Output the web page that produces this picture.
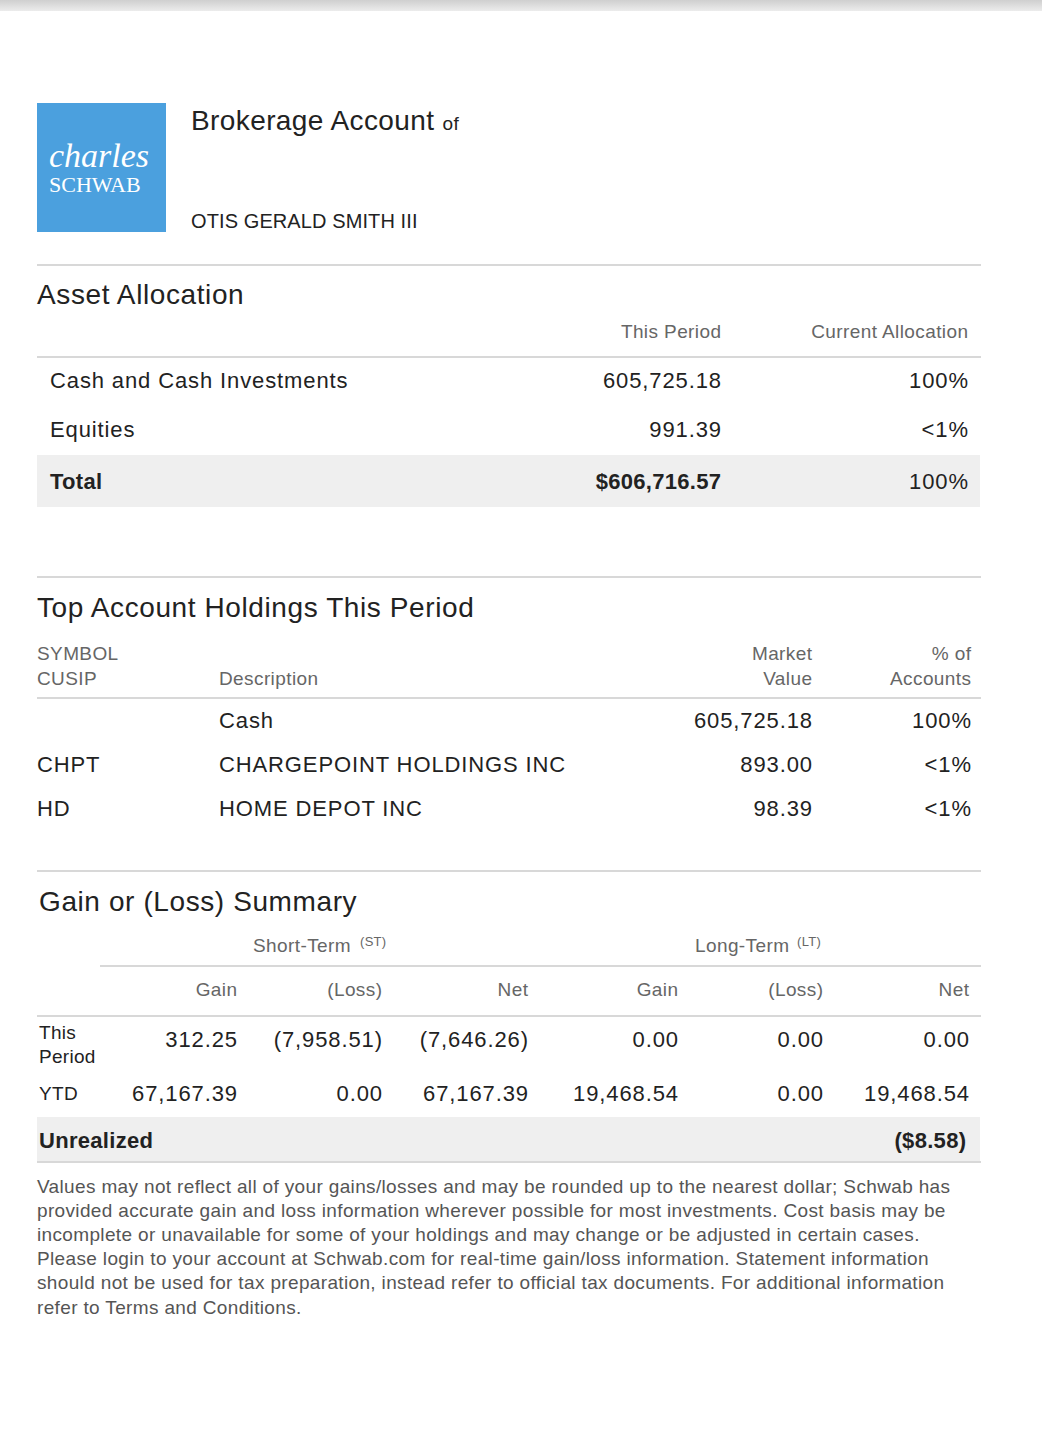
<!DOCTYPE html>
<html><head><meta charset="utf-8">
<script src="https://cdn.jsdelivr.net/npm/chart.js@4/dist/chart.umd.min.js"></script>
<style>
html,body{margin:0;padding:0;background:#fff;}
body{width:1042px;height:1440px;position:relative;overflow:hidden;font-family:"Liberation Sans",Arial,sans-serif;color:#222;}
.t{position:absolute;white-space:nowrap;line-height:1;}
.hr{position:absolute;height:2px;background:#d8d8d8;}
.bg{position:absolute;background:#efefef;}
</style></head><body>
<div style="position:absolute;left:0;top:0;width:1042px;height:11px;background:linear-gradient(#cfcfcf,#ececec);"></div>
<div style="position:absolute;left:37px;top:103px;width:129px;height:129px;background:#4ba0de;"></div>
<div class="t" style="left:49px;top:137px;font:italic 34px 'Liberation Serif',serif;color:#fff;">charles</div>
<div class="t" style="left:49px;top:172px;font:22px 'Liberation Serif',serif;color:#fff;">SCHWAB</div>
<div class="t" style="left:191px;top:107px;font-size:28px;letter-spacing:0.4px;">Brokerage Account <span style="font-size:19px">of</span></div>
<div class="t" style="left:191px;top:211px;font-size:20px;letter-spacing:0.1px;">OTIS GERALD SMITH III</div>
<div id="root"></div>
<script>
const allocCategories=["Cash and Cash Investments","Equities"];
const allocThisPeriod=["605,725.18","991.39"];
const allocCurrent=["100%","<1%"];
const allocTotal=["Total","$606,716.57","100%"];
const holdSymbols=["","CHPT","HD"];
const holdDescriptions=["Cash","CHARGEPOINT HOLDINGS INC","HOME DEPOT INC"];
const holdMarketValues=["605,725.18","893.00","98.39"];
const holdPercent=["100%","<1%","<1%"];
const glRows=["This Period","YTD"];
const glColumns=["Gain","(Loss)","Net","Gain","(Loss)","Net"];
const glThisPeriod=["312.25","(7,958.51)","(7,646.26)","0.00","0.00","0.00"];
const glYTD=["67,167.39","0.00","67,167.39","19,468.54","0.00","19,468.54"];
const unrealized="($8.58)";
const footnote=["Values may not reflect all of your gains/losses and may be rounded up to the nearest dollar; Schwab has","provided accurate gain and loss information wherever possible for most investments. Cost basis may be","incomplete or unavailable for some of your holdings and may change or be adjusted in certain cases.","Please login to your account at Schwab.com for real-time gain/loss information. Statement information","should not be used for tax preparation, instead refer to official tax documents. For additional information","refer to Terms and Conditions."];

const root=document.getElementById('root');
function T(txt,x,y,size,opts={}){const d=document.createElement('div');d.className='t';d.textContent=txt;d.style.fontSize=size+'px';d.style.top=(y-size*0.5)+'px';
 d.style.letterSpacing=(opts.ls!==undefined?opts.ls:0.04*size)+'px';
 if(opts.right!==undefined){d.style.right=(1042-opts.right)+'px';d.style.textAlign='right';d.style.marginRight='-'+d.style.letterSpacing;}else d.style.left=x+'px';
 if(opts.bold)d.style.fontWeight='bold';if(opts.color)d.style.color=opts.color;root.appendChild(d);}
function H(x,y,w){const d=document.createElement('div');d.className='hr';d.style.left=x+'px';d.style.top=y+'px';d.style.width=w+'px';root.appendChild(d);}
function B(y,h){const d=document.createElement('div');d.className='bg';d.style.left='37px';d.style.width='943px';d.style.top=y+'px';d.style.height=h+'px';root.appendChild(d);}
const gray='#666';
const TS=28, TL=0.6, RS=22, HS=19, HL=0.4;
// Asset allocation
H(37,264,944);
T("Asset Allocation",37,295,TS,{ls:TL});
T("This Period",0,331,HS,{right:721,color:gray,ls:HL});
T("Current Allocation",0,331,HS,{right:968,color:gray,ls:HL});
H(37,356,944);
const aY=[381,430];
allocCategories.forEach((c,i)=>{T(c,50,aY[i],RS);T(allocThisPeriod[i],0,aY[i],RS,{right:721});T(allocCurrent[i],0,aY[i],RS,{right:968});});
B(455,52);
T(allocTotal[0],50,482,RS,{bold:true,ls:0.3});T(allocTotal[1],0,482,RS,{right:721,bold:true,ls:0.3});T(allocTotal[2],0,482,RS,{right:968});
// Holdings
H(37,576,944);
T("Top Account Holdings This Period",37,608,TS,{ls:TL});
T("SYMBOL",37,653,HS,{color:gray,ls:HL});T("CUSIP",37,678,HS,{color:gray,ls:HL});
T("Description",219,678,HS,{color:gray,ls:HL});
T("Market",0,653,HS,{right:812,color:gray,ls:HL});T("Value",0,678,HS,{right:812,color:gray,ls:HL});
T("% of",0,653,HS,{right:971,color:gray,ls:HL});T("Accounts",0,678,HS,{right:971,color:gray,ls:HL});
H(37,697,944);
const hY=[721,765,809];
holdDescriptions.forEach((d,i)=>{T(holdSymbols[i],37,hY[i],RS);T(d,219,hY[i],RS);T(holdMarketValues[i],0,hY[i],RS,{right:812});T(holdPercent[i],0,hY[i],RS,{right:971});});
// Gain/Loss
H(37,870,944);
T("Gain or (Loss) Summary",39,902,TS,{ls:TL});
T("Short-Term",253,945,HS,{color:gray,ls:HL});T("(ST)",360,941,13,{color:gray,ls:0.3});
T("Long-Term",695,945,HS,{color:gray,ls:HL});T("(LT)",797,941,13,{color:gray,ls:0.3});
H(100,965,881);
const cR=[237,382,528,678,823,969];
glColumns.forEach((c,i)=>T(c,0,989,HS,{right:cR[i],color:gray,ls:HL}));
H(37,1015,944);
T("This",39,1032,19,{ls:0.3});T("Period",39,1056,19,{ls:0.3});
glThisPeriod.forEach((v,i)=>T(v,0,1040,RS,{right:cR[i]}));
T(glRows[1],39,1093,19,{ls:0.3});
glYTD.forEach((v,i)=>T(v,0,1094,RS,{right:cR[i]}));
B(1117,45);H(37,1161,944);
T("Unrealized",39,1141,RS,{bold:true,ls:0.3});T(unrealized,0,1141,RS,{right:966,bold:true,ls:0.3});
footnote.forEach((l,i)=>T(l,37,1186+i*24.2,19,{color:'#555',ls:0.35}));
</script>
</body></html>
